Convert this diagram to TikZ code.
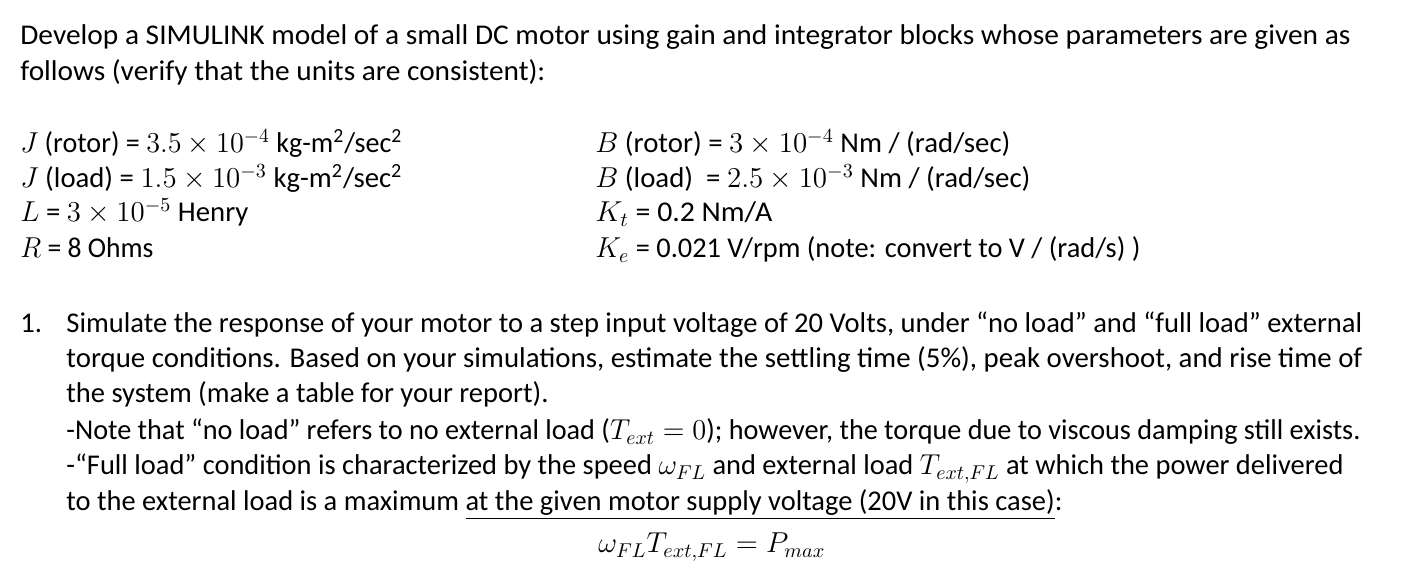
\documentclass[tikz,border=0pt]{standalone}
\usepackage{fontspec}
\setmainfont{Carlito}
\newcommand{\fw}[2]{\resizebox{#1pt}{\height}{#2}}
\begin{document}
\begin{tikzpicture}[x=0.5pt,y=-0.5pt,t/.style={anchor=base west,inner sep=0,font=\fontsize{14.3}{16}\selectfont}]
\useasboundingbox[fill=white] (0,0) rectangle (1417,581);
\node[t] (l1) at (20,45) {\fw{665}{Develop a SIMULINK model of a small DC motor using gain and integrator blocks whose parameters are given as}};
\node[t] (l2) at (20,81) {\fw{262.5}{follows (verify that the units are consistent):}};
\node[t] (a1) at (20,153) {\fw{191}{$J$ (rotor) = $3.5\times10^{-4}$ kg-m\textsuperscript{2}/sec\textsuperscript{2}}};
\node[t] (a2) at (20,188) {\fw{191}{$J$ (load) = $1.5\times10^{-3}$ kg-m\textsuperscript{2}/sec\textsuperscript{2}}};
\node[t] (a3) at (20,222) {\fw{114}{$L$ = $3\times10^{-5}$ Henry}};
\node[t] (a4) at (20,258) {\fw{66.5}{$R$ = 8 Ohms}};
\node[t] (b1) at (595,153) {\fw{207.5}{$B$ (rotor) = $3\times10^{-4}$ Nm / (rad/sec)}};
\node[t] (b2) at (595,188) {\fw{217.5}{$B$ (load)\ \ = $2.5\times10^{-3}$ Nm / (rad/sec)}};
\node[t] (b3) at (595,222) {\fw{88.5}{$K_t$ = 0.2 Nm/A}};
\node[t] (b4) at (595,258) {\fw{272.5}{$K_e$ = 0.021 V/rpm (note: convert to V / (rad/s) )}};
\node[t] (n1) at (20,333) {1.};
\node[t] (c1) at (66,333) {\fw{648}{Simulate the response of your motor to a step input voltage of 20 Volts, under “no load” and “full load” external}};
\node[t] (c2) at (66,368) {\fw{648}{torque conditions. Based on your simulations, estimate the settling time (5\%), peak overshoot, and rise time of}};
\node[t] (c3) at (66,403) {\fw{241}{the system (make a table for your report).}};
\node[t] (c4) at (66,440) {\fw{647}{-Note that “no load” refers to no external load ($T_{ext}=0$); however, the torque due to viscous damping still exists.}};
\node[t] (c5) at (66,475) {\fw{638.5}{-“Full load” condition is characterized by the speed $\omega_{FL}$ and external load $T_{ext,FL}$ at which the power delivered}};
\node[t] (c6) at (66,511) {\fw{498}{to the external load is a maximum \underline{at the given motor supply voltage (20V in this case)}:}};
\node[t] (eq) at (598,553) {\fw{113.5}{$\omega_{FL}T_{ext,FL}=P_{max}$}};
\end{tikzpicture}
\end{document}
